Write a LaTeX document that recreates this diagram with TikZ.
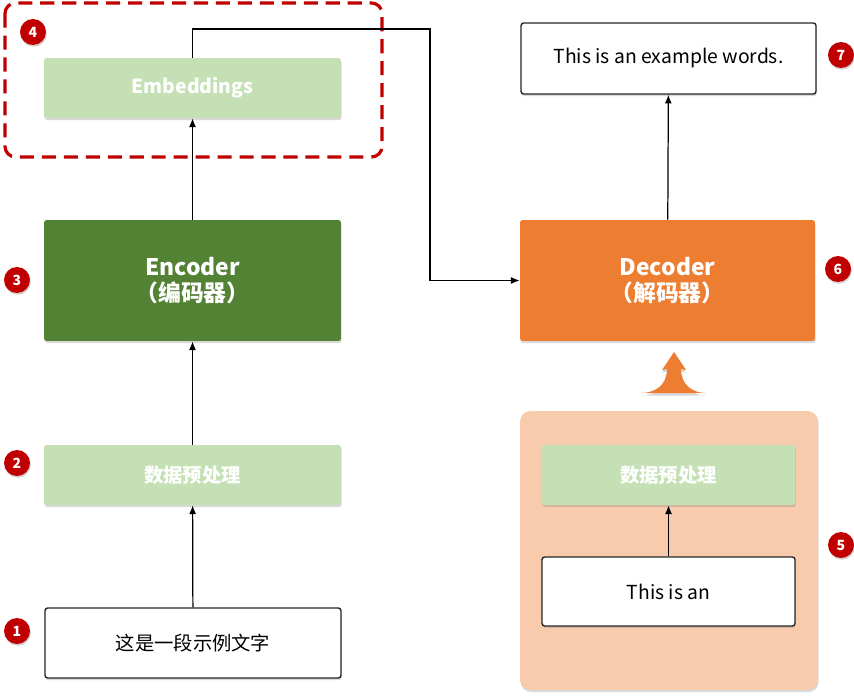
\documentclass[tikz,border=0pt]{standalone}
\usepackage{fontspec}
\setmainfont{Noto Sans CJK SC}
\usetikzlibrary{arrows.meta, shadows}

\definecolor{lightgreen}{HTML}{C5E0B4}
\definecolor{darkgreen}{HTML}{548235}
\definecolor{orangebox}{HTML}{ED7D31}
\definecolor{peach}{HTML}{F8CBAD}
\definecolor{badgered}{HTML}{C00000}

\begin{document}
\begin{tikzpicture}[x=0.02cm, y=-0.02cm]

\tikzset{box/.style = {shape=rectangle, rounded corners=1.5pt, minimum width=5.94cm, inner sep=0pt,
  drop shadow={opacity=0.3, shadow xshift=0.4pt, shadow yshift=-1.2pt}}}
\tikzset{paleblock/.style = {box, fill=lightgreen, text=white, font=\bfseries\fontsize{11}{13}\selectfont, minimum height=1.2cm}}
\tikzset{textblock/.style = {box, fill=white, draw=black!85, line width=0.8pt, font=\fontsize{11}{13}\selectfont}}
\tikzset{bigblock/.style = {box, text=white, font=\bfseries\fontsize{13}{15}\selectfont, minimum height=2.42cm, align=center}}
\tikzset{badge/.style = {shape=circle, fill=badgered, text=white, minimum size=0.52cm, inner sep=0pt,
  font=\bfseries\fontsize{8}{9}\selectfont, drop shadow={opacity=0.35, shadow xshift=0.5pt, shadow yshift=-1pt}}}
\tikzset{edge/.style = {-{Latex[length=5pt, width=4pt]}, line width=0.7pt}}

\useasboundingbox (0,0) rectangle (854,696);

%group boxes
\draw[badgered, line width=1.8pt, dash pattern=on 8pt off 4.5pt, rounded corners=6pt] (5,3) rectangle (382,157);
\node[box, fill=peach, minimum width=5.96cm, minimum height=5.58cm, rounded corners=6pt] (dataside) at (669,550.5) {};

%left column
\node[paleblock] (emb) at (192.5,88) {Embeddings};
\node[bigblock, fill=darkgreen] (enc) at (192.5,280.5) {Encoder\\（编码器）};
\node[paleblock] (pre) at (192.5,475) {数据预处理};
\node[textblock, minimum width=5.92cm, minimum height=1.4cm] (src) at (193,643) {这是一段示例文字};

%right column
\node[textblock, minimum width=5.9cm, minimum height=1.42cm] (out) at (668.5,58.5) {This is an example words.};
\node[bigblock, fill=orangebox, minimum width=5.9cm] (dec) at (667.5,280.5) {Decoder\\（解码器）};
\node[paleblock, minimum width=5.06cm] (pre2) at (668.5,475) {数据预处理};
\node[textblock, minimum width=5.06cm, minimum height=1.38cm] (tgt) at (668.5,591.5) {This is an};

%fat arrow
\fill[orangebox, drop shadow={opacity=0.3, shadow xshift=0pt, shadow yshift=-1.5pt}]
  (674,352) -- (686,370) -- (681,369) .. controls (681,386) and (694,393) .. (706,393)
  -- (641,393) .. controls (654,393) and (667,386) .. (667,369) -- (662,370) -- cycle;

%badges
\node[badge] (b1) at (17,631) {1};
\node[badge] (b2) at (17,463) {2};
\node[badge] (b3) at (17,280) {3};
\node[badge] (b4) at (33,32) {4};
\node[badge] (b5) at (841,545) {5};
\node[badge] (b6) at (838,269) {6};
\node[badge] (b7) at (841,55) {7};

%edges
\coordinate (turn) at (430,29);
\draw[edge] (src) -- (pre);
\draw[edge] (pre) -- (enc);
\draw[edge] (enc) -- (emb);
\draw[edge] (emb.north) |- (turn) |- (dec.west);
\draw[edge] (tgt) -- (pre2);
\draw[edge] (dec) -- (out);

\end{tikzpicture}
\end{document}
